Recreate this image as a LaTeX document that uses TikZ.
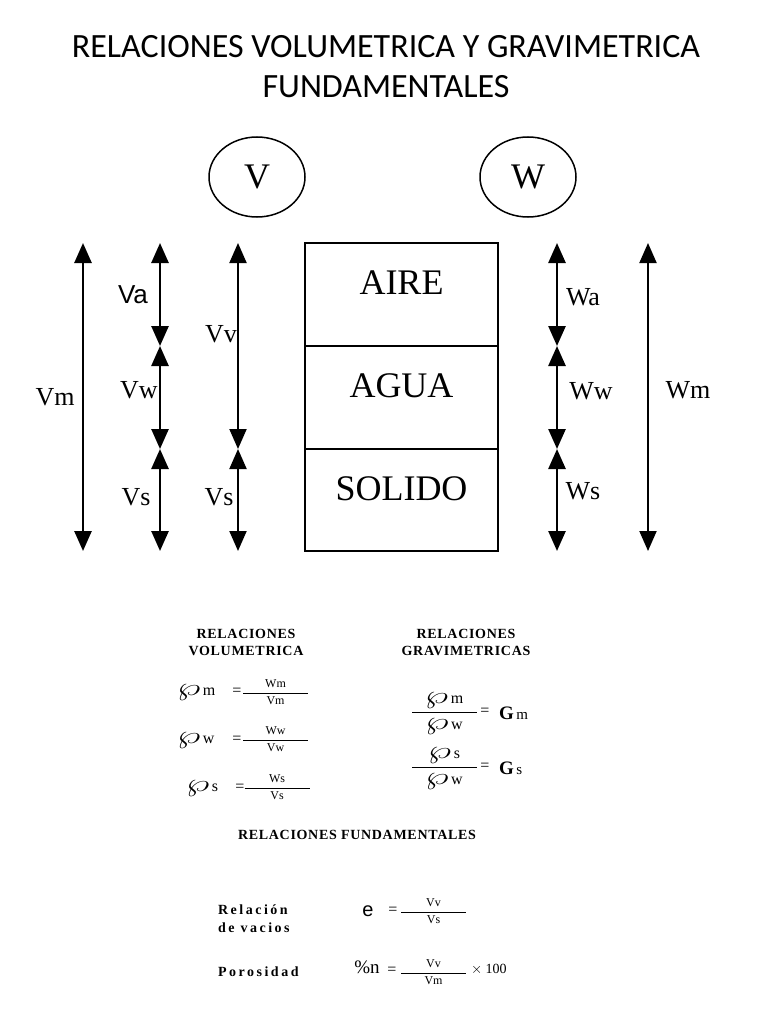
\documentclass[tikz,border=0pt]{standalone}
\usepackage{amsmath}
\usepackage{graphicx}
\usepackage{fontspec}
\setmainfont{Liberation Serif}
\newfontfamily\titlefont{Carlito}
\newfontfamily\arialfont{Liberation Sans}
\usetikzlibrary{arrows.meta,shapes.geometric,positioning,calc}

\newcommand{\rh}{{\fontsize{20}{20}\selectfont\scalebox{1.8}[1.2]{$\wp$}}}
\newcommand{\fr}[2]{$\dfrac{\makebox[65pt]{#1}}{\makebox[65pt]{#2}}$}

\begin{document}
\begin{tikzpicture}[x=1pt,y=-1pt]
	\tikzstyle{every node}=[inner sep=0pt,outer sep=0pt]
	\tikzstyle{dbl}=[{Triangle[width=17pt,length=20pt]}-{Triangle[width=17pt,length=20pt]},line width=2.6pt]
	\tikzstyle{dblthin}=[dbl,line width=2pt]
	\tikzstyle{capa}=[draw,line width=1.6pt,minimum width=193pt,minimum height=103pt,text height=24pt,text depth=24pt,font=\fontsize{36}{36}\selectfont]
	\tikzstyle{fase}=[draw,ellipse,line width=1.5pt,minimum width=96pt,minimum height=80pt,font=\fontsize{36}{36}\selectfont]
	\tikzstyle{lbl}=[font=\fontsize{26}{26}\selectfont]
	\tikzstyle{head}=[font=\fontsize{14}{17}\selectfont\bfseries\addfontfeature{LetterSpace=5},align=center]
	\tikzstyle{rot}=[font=\fontsize{14}{18}\selectfont\bfseries\addfontfeature{LetterSpace=18},align=left,anchor=west]
	\tikzstyle{num}=[font=\fontsize{12}{12}\selectfont]
	\tikzstyle{rho}=[font=\fontsize{16}{16}\selectfont,anchor=base west]
	\tikzstyle{eq}=[font=\fontsize{16}{16}\selectfont]
	\tikzstyle{barra}=[line width=0.8pt]

	\useasboundingbox (0,0) rectangle (768,1024);

	% titulo
	\node[font=\titlefont\fontsize{34}{40}\selectfont,align=center] (titulo) at (386,67) {RELACIONES VOLUMETRICA Y GRAVIMETRICA\\FUNDAMENTALES};

	% fases
	\node[fase] (V) at (257,177) {V};
	\node[fase] (W) at (528,177) {W};

	\node[capa] (aire) at (401.5,294.5) {AIRE};
	\node[capa,below=0pt of aire] (agua) {AGUA};
	\node[capa,below=0pt of agua,minimum height=102pt] (solido) {SOLIDO};

	% cotas
	\coordinate (xm) at (83,0);
	\coordinate (xc) at (160,0);
	\coordinate (xv) at (238,0);
	\coordinate (xw) at (557,0);
	\coordinate (xg) at (648,0);

	\draw[dbl] (aire.north -| xm) -- (solido.south -| xm);
	\draw[dbl] (aire.north -| xc) -- (aire.south -| xc);
	\draw[dbl] (agua.north -| xc) -- (agua.south -| xc);
	\draw[dbl] (solido.north -| xc) -- (solido.south -| xc);
	\draw[dblthin] (aire.north -| xv) -- (agua.south -| xv);
	\draw[dblthin] (solido.north -| xv) -- (solido.south -| xv);
	\draw[dbl] (aire.north -| xw) -- (aire.south -| xw);
	\draw[dbl] (agua.north -| xw) -- (agua.south -| xw);
	\draw[dbl] (solido.north -| xw) -- (solido.south -| xw);
	\draw[dblthin] (aire.north -| xg) -- (solido.south -| xg);

	\node[lbl] (Vm) at (55,397) {Vm};
	\node[lbl,font=\arialfont\fontsize{26}{26}\selectfont] (Va) at (133,295) {Va};
	\node[lbl] (Vw) at (139,390) {Vw};
	\node[lbl] (Vs) at (136,497) {Vs};
	\node[lbl] (Vv) at (221,334) {Vv};
	\node[lbl] (Vs2) at (219,497) {Vs};
	\node[lbl] (Wa) at (583,297) {Wa};
	\node[lbl] (Ww) at (591,391) {Ww};
	\node[lbl] (Ws) at (583,491) {Ws};
	\node[lbl] (Wm) at (688,390) {Wm};

	% relaciones
	\node[head] (hvol) at (246,642) {RELACIONES\\VOLUMETRICA};
	\node[head] (hgra) at (466,642) {RELACIONES\\GRAVIMETRICAS};

	\node[rho] (rm) at (177,695) {\rh\,m};
	\node[eq] (eq1) at (237,692) {=};
	\node[num] (f1) at (275.5,692) {\fr{Wm}{Vm}};
	\node[rho] (rw) at (177,743) {\rh\,w};
	\node[eq] (eq2) at (237,740) {=};
	\node[num] (f2) at (275.5,739) {\fr{Ww}{Vw}};
	\node[rho] (rs) at (186,791) {\rh\,s};
	\node[eq] (eq3) at (240,788) {=};
	\node[num] (f3) at (277,787) {\fr{Ws}{Vs}};

	\coordinate (g1a) at (412,712);
	\coordinate (g1b) at (477,712);
	\draw[barra] (g1a) -- (g1b);
	\node[rho,anchor=base] (g1n) at (444,703) {\rh\,m};
	\node[rho,anchor=base] (g1d) at (444,729) {\rh\,w};
	\node[eq] (eq4) at (485,712) {=};
	\node[anchor=base west,font=\fontsize{19}{19}\selectfont\bfseries] (Gm) at (499,719) {G{\mdseries\fontsize{15}{15}\selectfont\,m}};

	\coordinate (g2a) at (412,767);
	\coordinate (g2b) at (477,767);
	\draw[barra] (g2a) -- (g2b);
	\node[rho,anchor=base] (g2n) at (444,758) {\rh\,s};
	\node[rho,anchor=base] (g2d) at (444,784) {\rh\,w};
	\node[eq] (eq5) at (485,767) {=};
	\node[anchor=base west,font=\fontsize{19}{19}\selectfont\bfseries] (Gs) at (499,774) {G{\mdseries\fontsize{15}{15}\selectfont\,s}};

	\node[head] (hfun) at (357,835) {RELACIONES FUNDAMENTALES};

	\node[rot] (rel) at (218,919) {Relación\\de vacios};
	\node[rot] (por) at (218,972) {Porosidad};

	\node[font=\arialfont\fontsize{20}{20}\selectfont] (e) at (368,911) {e};
	\node[eq] (eq6) at (393,911) {=};
	\node[num] (f4) at (433.5,911) {\fr{Vv}{Vs}};
	\node[font=\fontsize{19}{19}\selectfont] (pn) at (367,967) {\%n};
	\node[eq] (eq7) at (392,971) {=};
	\node[num] (f5) at (433.5,972) {\fr{Vv}{Vm}};
	\node[font=\fontsize{14}{14}\selectfont,anchor=west] (x100) at (471,969) {$\times$ 100};
\end{tikzpicture}
\end{document}
